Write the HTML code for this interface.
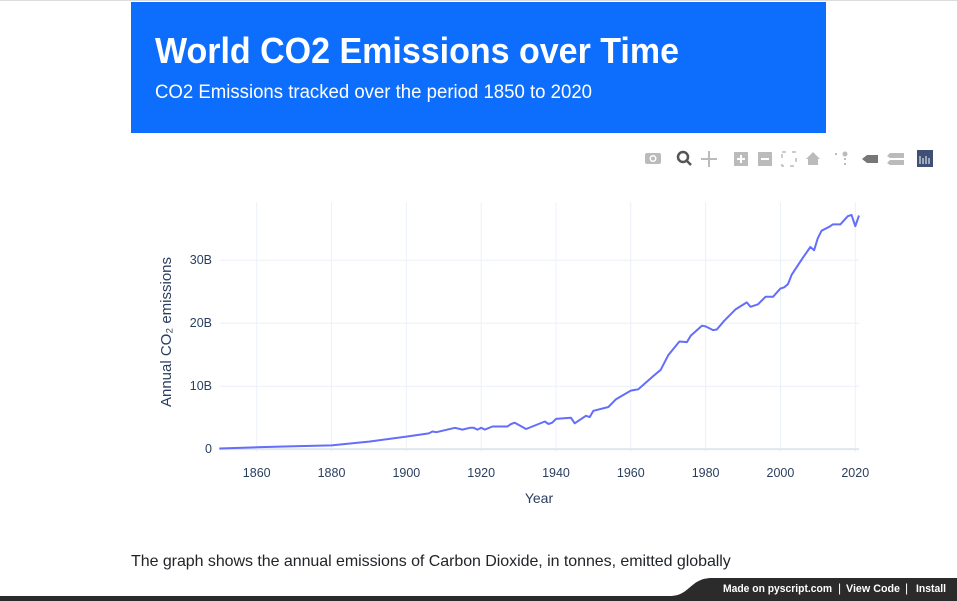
<!DOCTYPE html>
<html><head><meta charset="utf-8">
<style>
body{margin:0;width:957px;height:601px;overflow:hidden;background:#fff;font-family:"Liberation Sans",sans-serif;position:relative}
.abs{position:absolute}
</style></head><body>
<div class="abs" style="left:0;top:0;width:957px;height:1px;background:#ddd"></div>
<div class="abs" style="left:131px;top:2px;width:695px;height:131px;background:#0d6efd">
<svg width="695" height="131">
<text x="24" y="61" fill="#fff" font-size="36" font-weight="bold" textLength="524" lengthAdjust="spacingAndGlyphs" font-family="Liberation Sans, sans-serif">World CO2 Emissions over Time</text>
<text x="24" y="96" fill="#fff" font-size="19" textLength="437" lengthAdjust="spacingAndGlyphs" font-family="Liberation Sans, sans-serif">CO2 Emissions tracked over the period 1850 to 2020</text>
</svg></div>

<svg class="abs" style="left:640px;top:148px" width="300" height="22">
<g fill="#bbb"><rect x="5" y="5" width="16" height="11" rx="2"/><circle cx="13" cy="10.5" r="3.5" fill="#fff"/><circle cx="13" cy="10.5" r="2"/></g>
<g><circle cx="43" cy="9" r="5" fill="none" stroke="#555" stroke-width="2.5"/><line x1="47" y1="13" x2="51" y2="17" stroke="#555" stroke-width="2.5"/></g>
<g stroke="#bbb" stroke-width="2"><line x1="69" y1="3" x2="69" y2="19"/><line x1="61" y1="11" x2="77" y2="11"/></g>
<rect x="94" y="4" width="14" height="14" fill="#bbb"/><path d="M97 11h8M101 7v8" stroke="#fff" stroke-width="2"/>
<rect x="118" y="4" width="14" height="14" fill="#bbb"/><path d="M121 11h8" stroke="#fff" stroke-width="2"/>
<rect x="142" y="4" width="14" height="14" fill="none" stroke="#bbb" stroke-width="1.5" stroke-dasharray="4 6"/>
<path d="M166 11l7-7 7 7h-2v6h-10v-6z" fill="#bbb"/>
<g fill="#bbb"><circle cx="205" cy="6" r="2.5"/><rect x="195" y="5" width="2" height="2"/><rect x="204" y="10" width="2" height="2"/><rect x="204" y="15" width="2" height="2"/></g>
<path d="M222 11l5-4h11v8h-11z" fill="#777"/>
<g fill="#bbb"><path d="M247 8l3-3h14v5h-14z"/><path d="M247 15l3-3h14v5h-14z"/></g>
<rect x="277" y="2" width="16" height="17" fill="#3f4f75"/>
<path d="M280 8v8M283 10v6M286 8v8M289 10v6" stroke="#fff" stroke-width="1"/>
</svg>

<svg class="abs" style="left:0;top:0" width="957" height="601" id="chart" pointer-events="none"></svg>

<div class="abs" style="left:131px;top:553px;font-size:16px;color:#212529;letter-spacing:-0.05px">The graph shows the annual emissions of Carbon Dioxide, in tonnes, emitted globally</div>

<svg class="abs" style="left:0;top:574px" width="957" height="27">
<path d="M0 22 L670 22 C690 22 690 4 712 4 L957 4 L957 27 L0 27Z" fill="#2b2b2b"/>
<text x="723" y="18" fill="#fff" font-size="11" font-weight="bold" textLength="109" lengthAdjust="spacingAndGlyphs" font-family="Liberation Sans, sans-serif">Made on pyscript.com</text>
<text x="838" y="18" fill="#fff" font-size="12">|</text>
<text x="846" y="18" fill="#fff" font-size="11" font-weight="bold" textLength="54" lengthAdjust="spacingAndGlyphs" font-family="Liberation Sans, sans-serif">View Code</text>
<text x="905" y="18" fill="#fff" font-size="12">|</text>
<text x="916" y="18" fill="#fff" font-size="11" font-weight="bold" textLength="30" lengthAdjust="spacingAndGlyphs" font-family="Liberation Sans, sans-serif">Install</text>
</svg>

<script>
const years=[1850,1860,1870,1880,1890,1900,1906,1907,1908,1913,1915,1917,1918,1919,1920,1921,1923,1927,1928,1929,1932,1937,1938,1939,1940,1944,1945,1948,1949,1950,1954,1956,1960,1962,1966,1968,1970,1973,1975,1976,1979,1980,1982,1983,1985,1988,1991,1992,1994,1996,1998,2000,2001,2002,2003,2006,2008,2009,2010,2011,2013,2014,2016,2018,2019,2020,2021];
const emissionsB=[0.1,0.3,0.45,0.6,1.2,2.0,2.5,2.8,2.7,3.4,3.1,3.4,3.4,3.1,3.4,3.1,3.6,3.6,4.0,4.2,3.2,4.4,4.0,4.2,4.8,5.0,4.1,5.3,5.1,6.1,6.7,7.9,9.3,9.5,11.6,12.6,14.9,17.1,17.0,18.0,19.6,19.5,18.9,19.0,20.4,22.2,23.3,22.6,23.0,24.2,24.2,25.5,25.7,26.2,27.7,30.4,32.1,31.6,33.5,34.7,35.3,35.7,35.7,37.0,37.2,35.4,37.1];
const xTicks=[1860,1880,1900,1920,1940,1960,1980,2000,2020];
const yTicks=[0,10,20,30];
const yTickLabels=["0","10B","20B","30B"];

const NS="http://www.w3.org/2000/svg";
const svg=document.getElementById('chart');
const L=219.3,R=859,T=202,B=452;
const xMin=1850,xMax=2021,yMin=-0.45,yMax=39.25;
const xs=v=>L+(v-xMin)/(xMax-xMin)*(R-L);
const ys=v=>B-(v-yMin)/(yMax-yMin)*(B-T);
function mk(tag,attrs,parent){const e=document.createElementNS(NS,tag);for(const k in attrs)e.setAttribute(k,attrs[k]);(parent||svg).appendChild(e);return e;}
const grid=mk('g',{});


xTicks.forEach(t=>{
  const l=mk('line',{x1:xs(t),x2:xs(t),y1:T,y2:B,stroke:'#ebf0f8','stroke-width':1},grid);
  
  
  const tx=mk('text',{x:xs(t),y:477,'text-anchor':'middle','font-size':12.5,fill:'#2a3f5f','font-family':'Liberation Sans, sans-serif'});
  tx.textContent=t;
  
  
});
yTicks.forEach((t,i)=>{
  const l=mk('line',{x1:L,x2:R,y1:ys(t),y2:ys(t),stroke:t===0?'#e0e6f0':'#ebf0f8','stroke-width':t===0?2:1},grid);
  
  
  const tx=mk('text',{x:217-5,y:ys(t)+4,'text-anchor':'end','font-size':12.5,fill:'#2a3f5f','font-family':'Liberation Sans, sans-serif'});
  tx.textContent=yTickLabels[i];
  
  
});
const d=years.map((y,i)=>(i?'L':'M')+xs(y).toFixed(1)+' '+ys(emissionsB[i]).toFixed(1)).join(' ');
const line=mk('path',{d:d,fill:'none',stroke:'#636efa','stroke-width':2,'stroke-linejoin':'round'});


const xt=mk('text',{x:539,y:503,'text-anchor':'middle','font-size':14,fill:'#2a3f5f','font-family':'Liberation Sans, sans-serif'});
xt.textContent='Year';


const yt=mk('text',{x:0,y:0,transform:'translate(171,332) rotate(-90)','text-anchor':'middle','font-size':15,fill:'#2a3f5f','font-family':'Liberation Sans, sans-serif'});
yt.textContent='Annual CO₂ emissions';


</script>
</body></html>
